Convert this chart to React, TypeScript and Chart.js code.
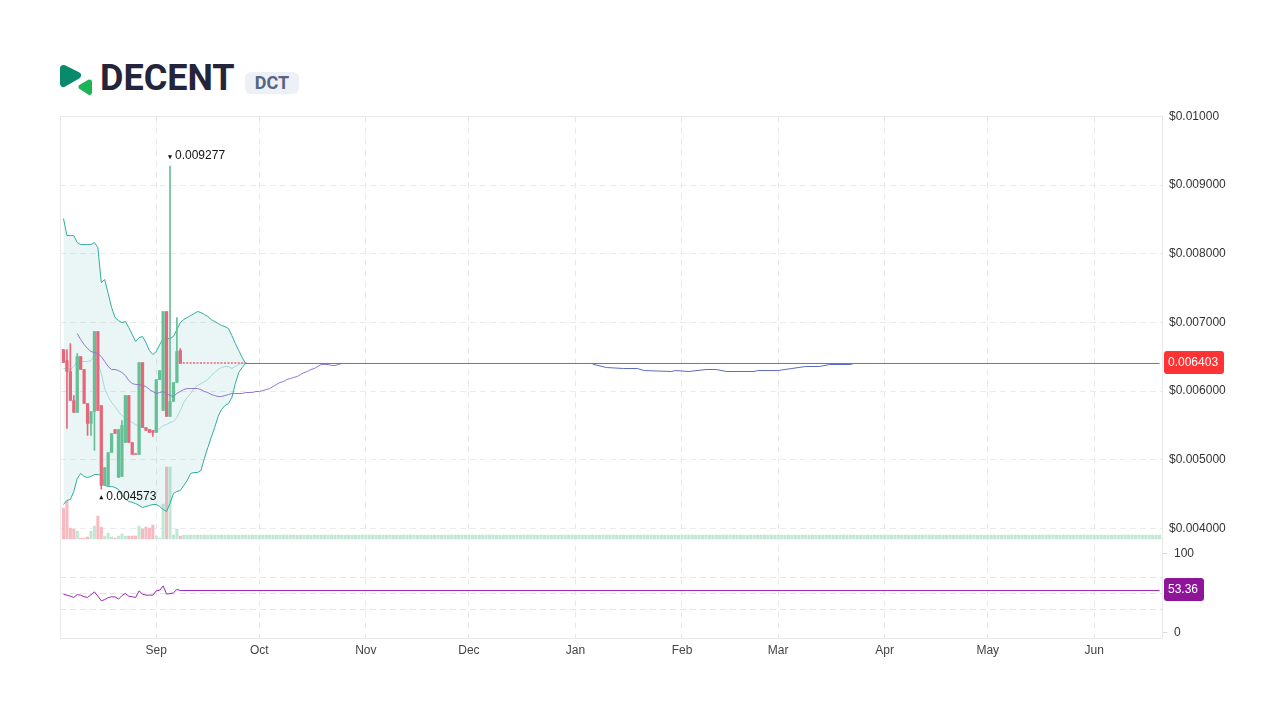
import { useEffect, useRef } from "react"
import { Chart, registerables } from "chart.js"

Chart.register(...registerables)

// prices are kept in millionths of a dollar, day 0 is Aug 5
const monthDays = [27, 57, 88, 118, 149, 180, 208, 239, 269, 300]
const monthLabels = ["Sep", "Oct", "Nov", "Dec", "Jan", "Feb", "Mar", "Apr", "May", "Jun"]
const priceTicks = [4000, 5000, 6000, 7000, 8000, 9000, 10000]
const rsiTicks = [0, 30, 50, 70, 100]
const lastDay = 319
const lastClose = 6403
const lastRsi = 53.36

const opens = [6606, 6446, 6286, 5864, 5689, 6504, 6315, 5820, 5529, 5704, 6868, 5791, 4626, 4626, 5107, 5441, 4743, 4757, 5252, 5936, 5252, 5077, 5077, 6417, 5471, 5441, 5427, 5398, 6169, 5718, 7160, 5631, 5849, 6126, 6592]
const closes = [6417, 6286, 5864, 5689, 6504, 6315, 5820, 5529, 5704, 6868, 5718, 4626, 4888, 5107, 5383, 5383, 5441, 5500, 5936, 5252, 5077, 5077, 6417, 5471, 5427, 5398, 5398, 6169, 6300, 7160, 5631, 5849, 6126, 6577, 6403]
const highs = [6606, 6606, 6694, 5936, 6548, 6504, 6315, 5820, 5704, 6868, 6868, 5791, 4888, 5107, 5383, 5441, 5441, 5572, 5936, 5936, 5252, 5077, 6417, 6417, 5471, 5441, 5427, 6169, 6300, 7160, 7160, 9277, 6126, 7072, 6621]
const lows = [6417, 5456, 5864, 5689, 5689, 6315, 5820, 5354, 5354, 5136, 5718, 4573, 4626, 4626, 5107, 5383, 4743, 4757, 5252, 5252, 5077, 5077, 5077, 5471, 5427, 5398, 5340, 5398, 6169, 5718, 5631, 5631, 5849, 6126, 6403]
const volumes = [31, 38, 11, 10, 8, 1, 1, 2, 8, 13, 23, 12, 3, 6, 2, 1, 3, 5, 3, 3, 3, 3, 13, 10, 12, 11, 14, 3, 1, 35, 72, 72, 4, 10, 3]
const flatVolume = 4

const bandUpper = [8514, 8266, 8266, 8266, 8164, 8135, 8135, 8135, 8135, 8164, 8091, 7582, 7625, 7422, 7218, 7072, 7028, 6999, 7014, 6927, 6825, 6723, 6781, 6796, 6708, 6592, 6533, 6577, 6679, 6766, 6766, 6766, 6796, 6897, 6999, 7043, 7072, 7101, 7130, 7160, 7145, 7116, 7087, 7043, 7014, 6985, 6956, 6941, 6912, 6810, 6694, 6592, 6490, 6403]
const bandLower = [4349, 4408, 4422, 4539, 4728, 4801, 4757, 4743, 4757, 4786, 4786, 4772, 4626, 4612, 4612, 4597, 4568, 4480, 4437, 4393, 4379, 4364, 4335, 4306, 4320, 4335, 4349, 4349, 4320, 4277, 4248, 4364, 4510, 4539, 4553, 4626, 4699, 4801, 4815, 4815, 4844, 5019, 5179, 5325, 5471, 5631, 5733, 5791, 5820, 5907, 6111, 6271, 6344, 6403]
const bandMiddle = [6330, 6330, 6315, 6359, 6446, 6432, 6432, 6432, 6446, 6519, 6417, 6257, 6038, 5922, 5835, 5776, 5704, 5645, 5616, 5572, 5543, 5514, 5485, 5471, 5456, 5441, 5427, 5427, 5456, 5500, 5514, 5543, 5558, 5616, 5718, 5835, 5907, 5966, 6038, 6082, 6111, 6140, 6169, 6228, 6271, 6315, 6344, 6359, 6359, 6330, 6359, 6388, 6403, 6403]

// purple average starts on day 4
const maStart = 4
const maValues = [6839, 6752, 6679, 6621, 6577, 6563, 6548, 6504, 6432, 6359, 6315, 6315, 6300, 6271, 6228, 6155, 6111, 6097, 6097, 6082, 6068, 6024, 5995, 5966, 5980, 5995, 5966, 5936, 5922, 5966, 5995, 6024, 6038, 6038, 6038, 6038, 6024, 5995, 5980, 5951, 5936, 5922, 5922, 5936, 5951, 5966, 5966, 5966, 5966, 5980, 5980, 5980, 5995, 5995, 6009, 6024, 6038, 6068, 6097, 6126, 6140, 6169, 6184, 6199, 6213, 6242, 6271, 6286, 6315, 6330, 6359, 6388, 6388, 6388, 6373, 6373, 6388, 6403]

const longMaDays = [154, 158, 163, 167, 169, 177, 178, 182, 187, 190, 193, 201, 202, 208, 209, 212, 216, 220, 223, 226, 229, 230]
const longMaValues = [6393, 6344, 6330, 6330, 6300, 6286, 6300, 6286, 6315, 6315, 6286, 6286, 6300, 6300, 6308, 6330, 6359, 6359, 6388, 6388, 6388, 6403]

const rsiValues = [48.4, 47.5, 46.2, 44.6, 48.1, 47.5, 45.6, 44.6, 48, 51.6, 46.2, 40.4, 41.9, 44.4, 45.4, 45.4, 42.5, 46.9, 49.6, 46.2, 45.4, 44.6, 52.9, 48.8, 47.5, 47.5, 47.5, 52.9, 53.8, 59.1, 48.8, 49.4, 50.4, 54.6, 53.36]

const GREEN = "#66bf96"
const RED = "#e4687a"
const GREEN_VOL = "#c2e7d5"
const RED_VOL = "#f8bac1"
const BAND = "#2fae9f"
const FONT = "'Liberation Sans', Arial, sans-serif"

const days = Array.from({ length: lastDay + 1 }, (_, i) => i)
// past the end of the bands the flat candles sit under the last-price line
const flatDays = days.slice(opens.length, bandUpper.length)
const isUp = (i: number) => closes[i] > opens[i]

const withTail = (values: number[], start: number, tail: number) => [
  ...values.map((y, i) => ({ x: start + i, y })),
  { x: lastDay, y: tail },
]

const priceLabel = (v: number) => (v / 1e6).toFixed(6)

function roundBox(ctx: CanvasRenderingContext2D, x: number, y: number, w: number, h: number, fill: string, text: string) {
  ctx.fillStyle = fill
  ctx.beginPath()
  ctx.roundRect(x, y, w, h, 3)
  ctx.fill()
  ctx.fillStyle = "#fff"
  ctx.font = `12px ${FONT}`
  ctx.textAlign = "left"
  ctx.textBaseline = "middle"
  ctx.fillText(text, x + 4, y + h / 2 + 0.5)
}

function peakLabel(ctx: CanvasRenderingContext2D, x: number, y: number, text: string, up: boolean) {
  ctx.fillStyle = "#111"
  ctx.beginPath()
  if (up) {
    ctx.moveTo(x - 2, y + 2)
    ctx.lineTo(x + 2, y + 2)
    ctx.lineTo(x, y - 2)
  } else {
    ctx.moveTo(x - 2, y - 1)
    ctx.lineTo(x + 2, y - 1)
    ctx.lineTo(x, y + 3)
  }
  ctx.fill()
  ctx.font = `12px ${FONT}`
  ctx.textAlign = "left"
  ctx.textBaseline = "middle"
  ctx.fillText(text, x + 5, y)
}

const framePlugin = {
  id: "frame",
  beforeDatasetsDraw(chart: Chart) {
    const { ctx, chartArea: a } = chart
    ctx.save()
    ctx.strokeStyle = "#e8e8e8"
    ctx.lineWidth = 1
    ctx.strokeRect(a.left + 0.5, Math.floor(a.top) + 0.5, a.width, Math.ceil(a.height))
    ctx.restore()
  },
  afterDraw(chart: Chart) {
    const { ctx, scales } = chart
    const highest = Math.max(...highs)
    const lowest = Math.min(...lows)
    ctx.save()
    peakLabel(ctx, scales.x.getPixelForValue(highs.indexOf(highest)), scales.y.getPixelForValue(highest) - 10, priceLabel(highest), false)
    peakLabel(ctx, scales.x.getPixelForValue(lows.indexOf(lowest)), scales.y.getPixelForValue(lowest) + 8, priceLabel(lowest), true)
    roundBox(ctx, 1164, scales.y.getPixelForValue(lastClose) - 12.5, 60, 23, "#ff3333", priceLabel(lastClose))
    roundBox(ctx, 1164, scales.rsi.getPixelForValue(lastRsi) - 12.5, 40, 23, "#8e1599", lastRsi.toFixed(2))
    ctx.restore()
  },
}

const lineBase = { type: "line", pointRadius: 0, borderWidth: 1, tension: 0, fill: false }
const barBase = { type: "bar", grouped: false, borderWidth: 0, borderSkipped: false }

export default function App() {
  const canvasRef = useRef<HTMLCanvasElement>(null)

  useEffect(() => {
    if (!canvasRef.current) return
    const chart = new Chart(canvasRef.current, {
      type: "bar",
      plugins: [framePlugin],
      data: {
        datasets: [
          {
            ...barBase,
            yAxisID: "vol",
            order: 6,
            barThickness: 2.4,
            data: days.map((i) => ({ x: i, y: i < volumes.length ? volumes[i] : flatVolume })),
            backgroundColor: days.map((i) => (i < volumes.length && !isUp(i) ? RED_VOL : GREEN_VOL)),
          },
          {
            ...lineBase,
            yAxisID: "y",
            order: 5,
            data: bandUpper.map((y, i) => ({ x: i, y })),
            borderColor: BAND,
            fill: { target: "+1" },
            backgroundColor: "rgba(38,166,154,0.1)",
          },
          {
            ...lineBase,
            yAxisID: "y",
            order: 5,
            data: bandLower.map((y, i) => ({ x: i, y })),
            borderColor: BAND,
          },
          {
            ...lineBase,
            yAxisID: "y",
            order: 5,
            data: bandMiddle.map((y, i) => ({ x: i, y })),
            borderColor: "#b2dfdb",
          },
          {
            ...barBase,
            yAxisID: "y",
            order: 4,
            barThickness: 1,
            data: highs.map((h, i) => ({ x: i, y: [lows[i], h] })),
            backgroundColor: highs.map((_, i) => (isUp(i) ? GREEN : RED)),
          },
          {
            ...barBase,
            yAxisID: "y",
            order: 4,
            barThickness: 2.6,
            minBarLength: 1,
            data: opens.map((o, i) => ({ x: i, y: [o, closes[i]] })),
            backgroundColor: opens.map((_, i) => (isUp(i) ? GREEN : RED)),
          },
          {
            // the flat days after trading stopped
            ...barBase,
            yAxisID: "y",
            order: 4,
            barThickness: 1.4,
            minBarLength: 1,
            data: flatDays.map((x) => ({ x, y: [lastClose, lastClose] })),
            backgroundColor: RED,
          },
          {
            ...lineBase,
            yAxisID: "y",
            order: 3,
            data: maValues.map((y, i) => ({ x: maStart + i, y })),
            borderColor: "#9575cd",
          },
          {
            ...lineBase,
            yAxisID: "y",
            order: 3,
            data: longMaDays.map((x, i) => ({ x, y: longMaValues[i] })),
            borderColor: "#5c6bc0",
          },
          {
            ...lineBase,
            yAxisID: "y",
            order: 2,
            data: [{ x: bandUpper.length - 1, y: lastClose }, { x: lastDay, y: lastClose }],
            borderColor: "#2a9d8f",
          },
          {
            ...lineBase,
            yAxisID: "rsi",
            order: 1,
            data: withTail(rsiValues, 0, lastRsi),
            borderColor: "#9c27b0",
          },
        ],
      } as any,
      options: {
        responsive: false,
        animation: false,
        events: [],
        layout: { padding: { left: 60, top: 116.5, right: 0, bottom: 0 } },
        plugins: { legend: { display: false }, tooltip: { enabled: false } },
        scales: {
          x: {
            type: "linear",
            min: -1.02,
            max: 319.71,
            offset: false,
            afterBuildTicks: (scale: any) => {
              scale.ticks = monthDays.map((value) => ({ value }))
            },
            afterFit: (scale: any) => {
              scale.height = 82
            },
            grid: { offset: false, color: "#e8e8e8", drawTicks: false },
            border: { display: false, dash: [6, 5] },
            ticks: {
              autoSkip: false,
              maxRotation: 0,
              padding: 5,
              color: "#444",
              font: { family: FONT, size: 12 },
              callback: (v: any) => monthLabels[monthDays.indexOf(v)],
            },
          },
          y: {
            type: "linear",
            position: "right",
            stack: "panes",
            stackWeight: 422,
            min: 3854,
            max: 10000,
            afterBuildTicks: (scale: any) => {
              scale.ticks = priceTicks.map((value) => ({ value }))
            },
            afterFit: (scale: any) => {
              scale.width = 118
            },
            grid: { color: "#ebebeb", drawTicks: false },
            border: { display: true, color: "#e8e8e8", dash: [6, 4] },
            ticks: {
              autoSkip: false,
              padding: 7,
              color: "#333",
              font: { family: FONT, size: 12 },
              callback: (v: any) => "$" + (v / 1e6).toPrecision(4),
            },
          },
          rsi: {
            type: "linear",
            position: "right",
            stack: "panes",
            stackWeight: 99.5,
            min: -6.28,
            max: 118.6,
            afterBuildTicks: (scale: any) => {
              scale.ticks = rsiTicks.map((value) => ({ value }))
            },
            afterFit: (scale: any) => {
              scale.width = 118
            },
            grid: {
              tickLength: 5,
              color: (c: any) => (c.tick && (c.tick.value === 0 || c.tick.value === 100) ? "transparent" : "#d6eaf4"),
              tickColor: (c: any) => (c.tick && (c.tick.value === 0 || c.tick.value === 100) ? "#d8d8d8" : "transparent"),
            },
            border: { display: true, color: "#e8e8e8", dash: [6, 4] },
            ticks: {
              autoSkip: false,
              padding: 7,
              color: "#333",
              font: { family: FONT, size: 12 },
              callback: (v: any) => (v === 0 || v === 100 ? String(v) : ""),
            },
          },
          vol: {
            type: "linear",
            display: false,
            position: "right",
            min: -99,
            max: 422.5,
          },
        },
      } as any,
    })
    return () => chart.destroy()
  }, [])

  return (
    <div style={{ position: "absolute", left: 0, top: 0, width: 1280, height: 720, background: "#fff", overflow: "hidden" }}>
      <svg style={{ position: "absolute", left: 58, top: 62 }} width={36} height={36} viewBox="58 62 36 36">
        <polygon points="63.5,68.5 77.5,75.5 63.5,83.5" fill="#0a8a6c" stroke="#0a8a6c" strokeWidth={7} strokeLinejoin="round" />
        <polygon points="89.5,82 81,87 89.5,92.5" fill="#1db455" stroke="#1db455" strokeWidth={5} strokeLinejoin="round" />
      </svg>
      <div style={{ position: "absolute", left: 100, top: 57, fontFamily: "Roboto", fontWeight: 700, fontSize: 36, lineHeight: "42px", color: "#24253a" }}>
        DECENT
      </div>
      <div style={{ position: "absolute", left: 245, top: 72, width: 54, height: 22, borderRadius: 6, background: "#edf0f5", textAlign: "center", fontFamily: "Roboto", fontWeight: 700, fontSize: 18, lineHeight: "22px", color: "#566583" }}>
        DCT
      </div>
      <canvas ref={canvasRef} width={1280} height={720} style={{ position: "absolute", left: 0, top: 0 }} />
    </div>
  )
}
